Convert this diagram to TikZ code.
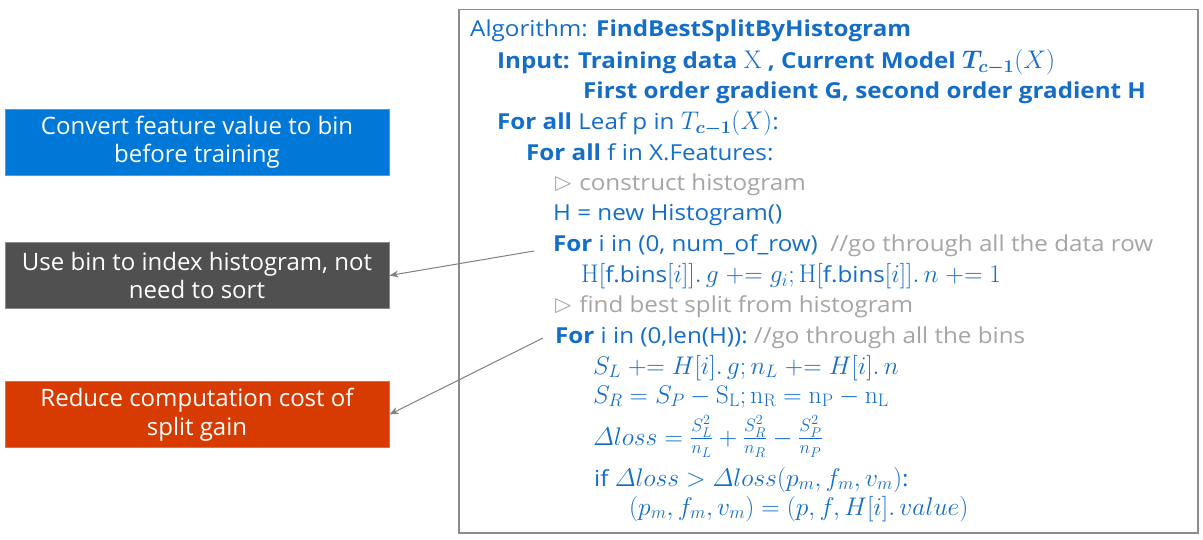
\RequirePackage{fix-cm}
\documentclass[tikz,border=0pt]{standalone}
\usepackage{amsmath,amssymb}
\usepackage[no-math]{fontspec}
\setmainfont{Open Sans}
\newfontfamily\algfont[FakeStretch=1.1]{Open Sans}
\DeclareMathSizes{22}{25.5}{18}{14}
\definecolor{algblue}{RGB}{20,110,200}
\definecolor{commentgray}{RGB}{165,165,165}
\definecolor{binblue}{RGB}{0,120,215}
\definecolor{sortgray}{RGB}{80,80,80}
\definecolor{gainred}{RGB}{216,59,1}
\usetikzlibrary{arrows.meta,positioning}

\begin{document}
\begin{tikzpicture}[x=1pt,y=-1pt,
    notebox/.style={draw=black!45, line width=0.9pt, minimum width=384pt, minimum height=66pt,
        inner sep=0pt, align=center, text=white, font=\fontsize{24}{28.5}\selectfont},
    algline/.style={anchor=base west, inner sep=0pt, text=algblue,
        font=\algfont\fontsize{22}{26}\selectfont},
    pointer/.style={draw=black!50, line width=1pt, -{Stealth[length=9pt,width=7pt]}}]
    \path[fill=white] (0,0) rectangle (1203,540);
    \useasboundingbox (0,0) rectangle (1203,540);

    % notes on the left
    \node[notebox, fill=binblue] (tobin) at (197,142) {Convert feature value to bin\\before training};
    \node[notebox, fill=sortgray] (usebin) at (197,275.5) {Use bin to index histogram, not\\need to sort};
    \node[notebox, fill=gainred] (reduce) at (197,414.5) {Reduce computation cost of\\split gain};

    % algorithm frame
    \draw[draw=black!45, line width=1.3pt] (459,9.5) rectangle (1198,533);

    % algorithm lines
    \node[algline] (l1) at (470,37) {Algorithm: \textbf{FindBestSplitByHistogram}};
    \node[algline] (l2) at (497,68.5) {\textbf{Input: Training data} $\mathrm{X}$ \textbf{, Current Model} $\boldsymbol{T_{c-1}}(X)$};
    \node[algline] (l3) at (583,99) {\textbf{First order gradient G, second order gradient H}};
    \node[algline] (l4) at (497,130) {\textbf{For all} Leaf p in $T_{\boldsymbol{c-1}}(X)$:};
    \node[algline] (l5) at (526,160.5) {\textbf{For all} f in X.Features:};
    \node[algline, text=commentgray] (l6) at (553,190.5) {$\vartriangleright$ construct histogram};
    \node[algline] (l7) at (553,220.5) {H = new Histogram()};
    \node[algline] (l8) at (553,251.5) {\textbf{For} i in (0, num\_of\_row)\ \ {\color{commentgray}//go through all the data row}};
    \node[algline] (l9) at (581,282.5) {$\mathrm{H}[\mbox{f.bins}[i]].\,g \mathrel{+}= g_i; \mathrm{H}[\mbox{f.bins}[i]].\,n \mathrel{+}= 1$};
    \node[algline, text=commentgray] (l10) at (553,312.5) {$\vartriangleright$ find best split from histogram};
    \node[algline] (l11) at (555,343.5) {\textbf{For} i in (0,len(H)): {\color{commentgray}//go through all the bins}};
    \node[algline] (l12) at (593,374) {$S_L \mathrel{+}= H[i].\,g; n_L \mathrel{+}= H[i].\,n$};
    \node[algline] (l13) at (593,403) {$S_R = S_P - \mathrm{S_L}; \mathrm{n_R} = \mathrm{n_P} - \mathrm{n_L}$};
    \node[algline] (l14) at (593,445) {$\varDelta loss = \frac{S_L^2}{n_L} + \frac{S_R^2}{n_R} - \frac{S_P^2}{n_P}$};
    \node[algline] (l15) at (594,486) {if $\varDelta loss > \varDelta loss(p_m, f_m, v_m)$:};
    \node[algline] (l16) at (629,515) {$(p_m, f_m, v_m) = (p, f, H[i].\,value)$};

    % pointers to the notes
    \coordinate (fromrow) at (534,251);
    \coordinate (frombins) at (543,338);
    \draw[pointer] (fromrow) -- (usebin.east);
    \draw[pointer] (frombins) -- (reduce.east);
\end{tikzpicture}
\end{document}
